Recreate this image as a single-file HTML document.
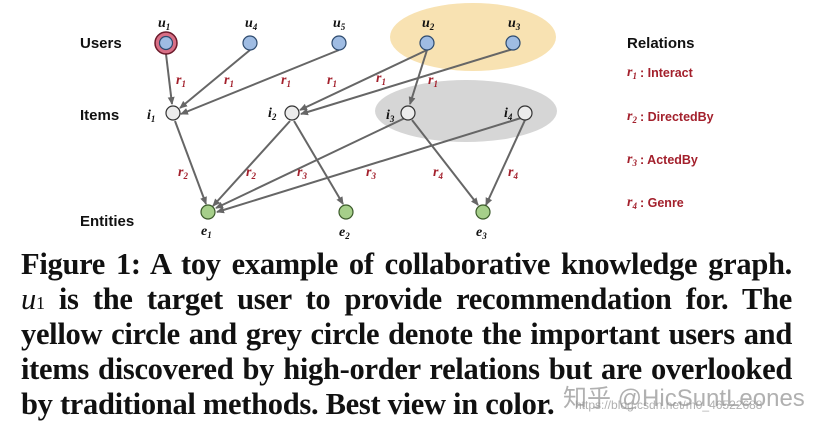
<!DOCTYPE html>
<html><head><meta charset="utf-8"><style>
body{margin:0;width:822px;height:424px;background:#fff;overflow:hidden;position:relative;font-family:"Liberation Sans",sans-serif}
svg{position:absolute;left:0;top:0}
.cap{position:absolute;left:21px;width:771px;font-family:"Liberation Serif",serif;font-weight:bold;font-size:30.5px;line-height:30px;text-align:justify;text-align-last:justify;color:#111;white-space:nowrap;letter-spacing:-0.3px}
.wm{position:absolute;color:rgba(150,150,150,0.75);font-family:"Liberation Sans","Noto Sans CJK SC",sans-serif;white-space:nowrap}
</style></head><body>
<svg width="822" height="245" viewBox="0 0 822 245">
<defs><marker id="a" markerWidth="8" markerHeight="8" refX="7" refY="4" orient="auto" markerUnits="userSpaceOnUse"><path d="M0,0.5 L8,4 L0,7.5 z" fill="#666"/></marker></defs>
<ellipse cx="473" cy="37" rx="83" ry="34" fill="#f8e2b2"/>
<ellipse cx="466" cy="111" rx="91" ry="31" fill="#d6d6d6"/>
<g stroke="#666" stroke-width="2" marker-end="url(#a)">
<line x1="166" y1="54" x2="172" y2="104"/>
<line x1="250" y1="50" x2="180" y2="108"/>
<line x1="339" y1="50" x2="181" y2="114"/>
<line x1="427" y1="50" x2="300" y2="110"/>
<line x1="513" y1="49" x2="301" y2="114"/>
<line x1="427" y1="50" x2="410" y2="104"/>
<line x1="175" y1="121" x2="206" y2="204"/>
<line x1="290" y1="121" x2="213" y2="206"/>
<line x1="294" y1="121" x2="343" y2="204"/>
<line x1="405" y1="118" x2="216" y2="208"/>
<line x1="412" y1="120" x2="478" y2="205"/>
<line x1="521" y1="118" x2="217" y2="212"/>
<line x1="525" y1="120" x2="486" y2="205"/>
</g>
<circle cx="166" cy="43" r="11" fill="#d86f86" stroke="#6b1a2a" stroke-width="1.5"/>
<g fill="#9fbce3" stroke="#2d4a6e" stroke-width="1.2">
<circle cx="166" cy="43" r="6.5"/><circle cx="250" cy="43" r="7"/><circle cx="339" cy="43" r="7"/><circle cx="427" cy="43" r="7"/><circle cx="513" cy="43" r="7"/></g>
<g fill="#ececec" stroke="#333" stroke-width="1.2">
<circle cx="173" cy="113" r="7"/><circle cx="292" cy="113" r="7"/><circle cx="408" cy="113" r="7"/><circle cx="525" cy="113" r="7"/></g>
<g fill="#a6cf8a" stroke="#3b5a2a" stroke-width="1.2">
<circle cx="208" cy="212" r="7"/><circle cx="346" cy="212" r="7"/><circle cx="483" cy="212" r="7"/></g>
<g font-family="Liberation Sans" font-weight="bold" font-size="15" fill="#111">
<text x="80" y="48">Users</text><text x="80" y="120">Items</text><text x="80" y="226">Entities</text>
<text x="627" y="48">Relations</text></g>
<g font-family="Liberation Serif" font-style="italic" font-weight="bold" font-size="14" fill="#111">
<text x="158" y="27">u<tspan font-size="9" dy="3">1</tspan></text>
<text x="245" y="27">u<tspan font-size="9" dy="3">4</tspan></text>
<text x="333" y="27">u<tspan font-size="9" dy="3">5</tspan></text>
<text x="422" y="27">u<tspan font-size="9" dy="3">2</tspan></text>
<text x="508" y="27">u<tspan font-size="9" dy="3">3</tspan></text>
<text x="147" y="119">i<tspan font-size="9" dy="3">1</tspan></text>
<text x="268" y="117">i<tspan font-size="9" dy="3">2</tspan></text>
<text x="386" y="119">i<tspan font-size="9" dy="3">3</tspan></text>
<text x="504" y="117">i<tspan font-size="9" dy="3">4</tspan></text>
<text x="201" y="235">e<tspan font-size="9" dy="3">1</tspan></text>
<text x="339" y="236">e<tspan font-size="9" dy="3">2</tspan></text>
<text x="476" y="236">e<tspan font-size="9" dy="3">3</tspan></text>
</g>
<g font-family="Liberation Serif" font-style="italic" font-weight="bold" font-size="14" fill="#a3202c">
<text x="176" y="84">r<tspan font-size="9" dy="3">1</tspan></text>
<text x="224" y="84">r<tspan font-size="9" dy="3">1</tspan></text>
<text x="281" y="84">r<tspan font-size="9" dy="3">1</tspan></text>
<text x="327" y="84">r<tspan font-size="9" dy="3">1</tspan></text>
<text x="376" y="82">r<tspan font-size="9" dy="3">1</tspan></text>
<text x="428" y="84">r<tspan font-size="9" dy="3">1</tspan></text>
<text x="178" y="176">r<tspan font-size="9" dy="3">2</tspan></text>
<text x="246" y="176">r<tspan font-size="9" dy="3">2</tspan></text>
<text x="297" y="176">r<tspan font-size="9" dy="3">3</tspan></text>
<text x="366" y="176">r<tspan font-size="9" dy="3">3</tspan></text>
<text x="433" y="176">r<tspan font-size="9" dy="3">4</tspan></text>
<text x="508" y="176">r<tspan font-size="9" dy="3">4</tspan></text>
<text x="627" y="76">r<tspan font-size="9" dy="3">1</tspan></text>
<text x="627" y="120">r<tspan font-size="9" dy="3">2</tspan></text>
<text x="627" y="163">r<tspan font-size="9" dy="3">3</tspan></text>
<text x="627" y="206">r<tspan font-size="9" dy="3">4</tspan></text>
</g>
<g font-family="Liberation Sans" font-weight="bold" font-size="12.5" fill="#a3202c">
<text x="640" y="77">: Interact</text><text x="640" y="121">: DirectedBy</text><text x="640" y="164">: ActedBy</text><text x="640" y="207">: Genre</text></g>
</svg>
<div class="cap" style="top:249px">Figure 1: A toy example of collaborative knowledge graph.</div>
<div class="cap" style="top:284px"><i style="font-weight:normal">u</i><span style="font-weight:normal;font-size:18px">1</span> is the target user to provide recommendation for. The</div>
<div class="cap" style="top:319px">yellow circle and grey circle denote the important users and</div>
<div class="cap" style="top:354px">items discovered by high-order relations but are overlooked</div>
<div class="cap" style="top:389px;text-align-last:left;width:auto">by traditional methods. Best view in color.</div>
<div class="wm" style="left:563px;top:378px;font-size:24px">知乎 @HicSuntLeones</div>
<div class="wm" style="left:575px;top:398px;font-size:12px">https://blog.csdn.net/m0_46522688</div>
</body></html>
